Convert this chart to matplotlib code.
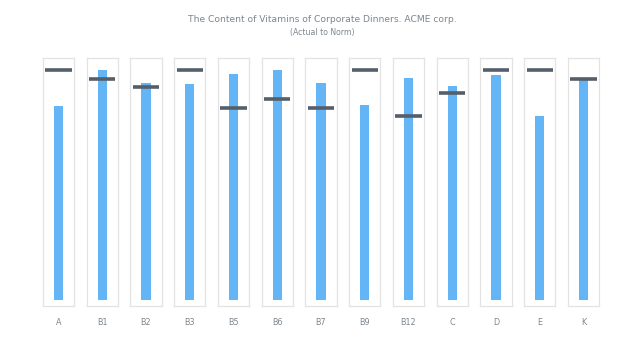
import matplotlib as mpl
import matplotlib.pyplot as plt

mpl.rcParams.update({'font.family': 'DejaVu Sans'})

# vitamins, actual content and norm (% scale)
names = ['A', 'B1', 'B2', 'B3', 'B5', 'B6', 'B7', 'B9', 'B12', 'C', 'D', 'E', 'K']
actual = [84.3, 100, 94.3, 93.9, 98.3, 100, 94.3, 84.8, 96.5, 93.0, 97.8, 80.0, 96.5]
norm = [100, 96.1, 92.6, 100, 83.5, 87.4, 83.5, 100, 80.0, 90.0, 100, 100, 96.1]

C_BAR, C_MARK, C_TXT, C_BOX = '#64b5f6', '#545f69', '#7c868e', '#e3e3e3'

fig, axes = plt.subplots(1, len(names), figsize=(6.44, 3.5), dpi=100)
fig.subplots_adjust(left=43/644, right=599/644, top=1-58/350, bottom=1-306/350, wspace=0.41)

for ax, n, a, m in zip(axes, names, actual, norm):
    ax.bar([0], [a], width=0.3, color=C_BAR, zorder=2)
    ax.hlines(m, -0.42, 0.42, color=C_MARK, lw=2.6, zorder=3)
    ax.set_xlim(-0.5, 0.5)
    ax.set_ylim(-2.6, 105.2)
    ax.set_xticks([]); ax.set_yticks([])
    for s in ax.spines.values():
        s.set_color(C_BOX); s.set_linewidth(0.9)
    ax.text(0.5, -0.067, n, transform=ax.transAxes, ha='center', va='center', fontsize=5.8, color=C_TXT)

fig.text(0.5, 1-20/350, 'The Content of Vitamins of Corporate Dinners. ACME corp.',
         ha='center', va='center', fontsize=6.6, color=C_TXT)
fig.text(0.5, 1-32/350, '(Actual to Norm)', ha='center', va='center', fontsize=5.6, color=C_TXT)

fig.savefig('out.png', dpi=100)
